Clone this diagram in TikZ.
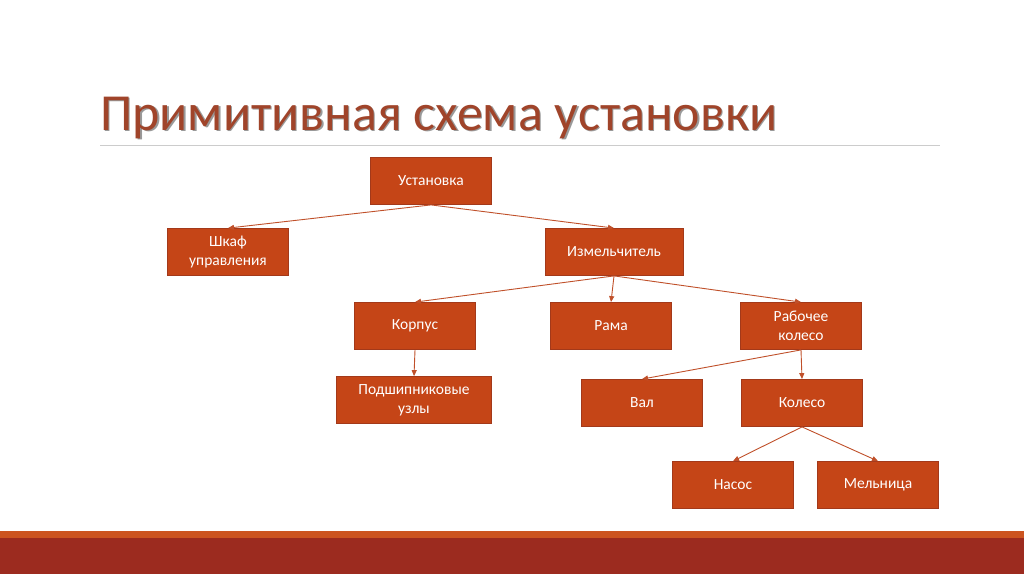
\documentclass[tikz,border=0pt]{standalone}
\usepackage{fontspec}
\setmainfont{Carlito}
\usetikzlibrary{arrows.meta}
\definecolor{boxfill}{HTML}{C54517}
\definecolor{boxline}{HTML}{A3391A}
\definecolor{arr}{HTML}{C0502A}
\definecolor{titlec}{HTML}{A0442A}
\definecolor{stripe}{HTML}{CC5420}
\definecolor{bar}{HTML}{9C2B1F}
\tikzset{
  box/.style={draw=boxline,line width=0.8pt,fill=boxfill,text=white,minimum width=121pt,minimum height=47pt,align=center,font=\fontsize{15.5}{19}\selectfont,inner sep=2pt},
  conn/.style={draw=arr,line width=0.9pt,-{Triangle[length=6pt,width=5pt]}}
}
\begin{document}
\begin{tikzpicture}[x=1pt,y=-1pt]
\useasboundingbox (0,0) rectangle (1024,574);
\fill[white] (0,0) rectangle (1024,574);
\fill[stripe] (0,531) rectangle (1024,538);
\fill[bar] (0,538) rectangle (1024,574);
\draw[gray!40,line width=0.8pt] (100,145) -- (940,145);
\node[anchor=base west,text=black!40,font=\fontsize{52}{60}\selectfont,inner sep=0] at (101.5,131.5) {Примитивная схема установки};
\node[anchor=base west,text=titlec,font=\fontsize{52}{60}\selectfont,inner sep=0] (title) at (100,130) {Примитивная схема установки};
\node[box] (u) at (431,181) {Установка};
\node[box] (sh) at (228,252) {Шкаф\\управления};
\node[box,minimum width=138pt] (iz) at (614,252) {Измельчитель};
\node[box] (k) at (415,326) {Корпус};
\node[box] (r) at (611,326) {Рама};
\node[box] (rk) at (801,326) {Рабочее\\колесо};
\node[box,minimum width=155pt] (p) at (414,400) {Подшипниковые\\узлы};
\node[box] (v) at (642,403) {Вал};
\node[box] (ko) at (802,403) {Колесо};
\node[box] (n) at (733,485) {Насос};
\node[box] (m) at (878,485) {Мельница};
\draw[conn] (u.south) -- (sh.north);
\draw[conn] (u.south) -- (iz.north);
\draw[conn] (iz.south) -- (k.north);
\draw[conn] (iz.south) -- (r.north);
\draw[conn] (iz.south) -- (rk.north);
\draw[conn] (k.south) -- (p.north);
\draw[conn] (rk.south) -- (v.north);
\draw[conn] (rk.south) -- (ko.north);
\draw[conn] (ko.south) -- (n.north);
\draw[conn] (ko.south) -- (m.north);
\end{tikzpicture}
\end{document}
